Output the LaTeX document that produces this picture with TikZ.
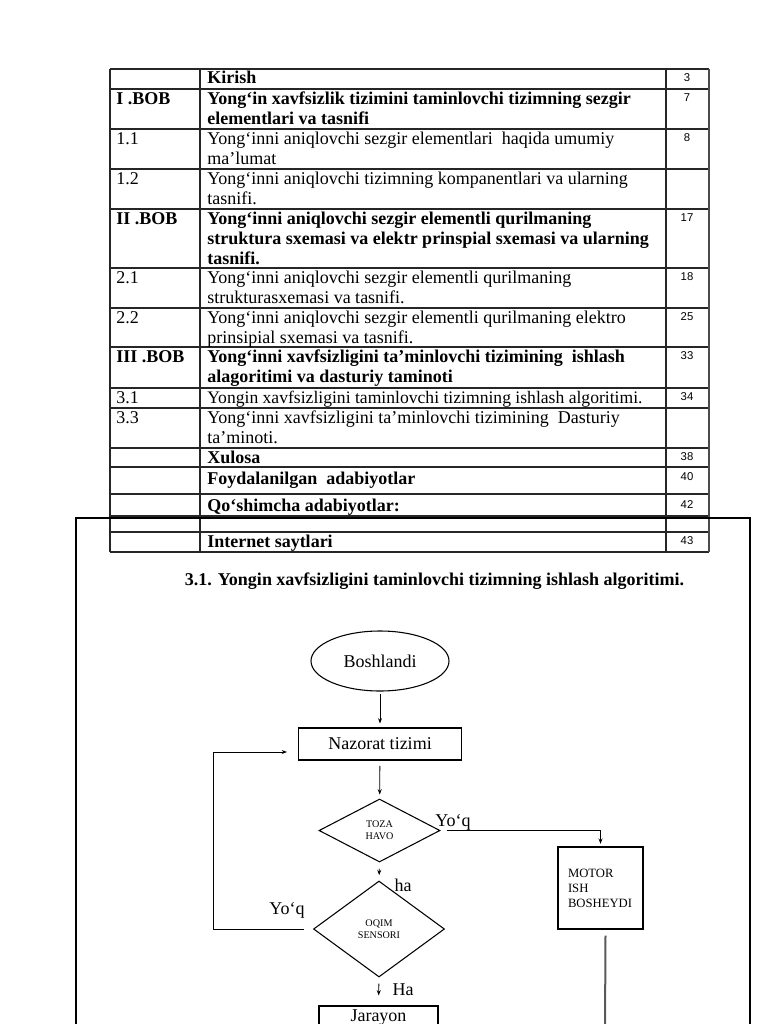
\documentclass[tikz,border=0pt]{standalone}
\usepackage{fontspec}
\setmainfont{Liberation Serif}
\newfontfamily\numfont{Liberation Sans}
\usetikzlibrary{shapes.geometric,arrows.meta}
\newcommand\pxu{0.75pt}
\begin{document}
\begin{tikzpicture}[x=0.75pt,y=-0.75pt,
  tl/.style={anchor=base west, inner sep=0pt, font=\fontsize{13.5}{15}\selectfont},
  tb/.style={anchor=base west, inner sep=0pt, font=\fontsize{13.5}{15}\selectfont\bfseries},
  pn/.style={anchor=base, inner sep=0pt, font=\numfont\fontsize{8.5}{10}\selectfont},
  gridline/.style={line width=0.8pt, draw=black!85},
  fl/.style={font=\fontsize{13.5}{16}\selectfont},
  lbl/.style={inner sep=0pt, font=\fontsize{13.5}{16}\selectfont},
  arr/.style={-{Stealth[length=4pt,width=3pt]}, line width=0.6pt},
  fbox/.style={draw, line width=0.8pt, inner sep=0pt},
  dia/.style={draw, diamond, line width=0.8pt, inner sep=0pt, align=center, font=\fontsize{7.6}{9}\selectfont},
]
\useasboundingbox (0,0) rectangle (768,1024);
\fill[white] (0,0) rectangle (768,1024);

% ---------- table ----------
\foreach \yy in {69,89,129,169,209,268,308,347,388,408,448,467,494,516,532,552}
  \draw[gridline] (110,\yy) -- (709,\yy);
\foreach \xx in {110,200,666}
  \draw[gridline] (\xx,69) -- (\xx,552);
\draw[line width=1.1pt, draw=black!70] (709,69) -- (709,552);

% row 1
\node[tb] (r1b) at (207,84) {Kirish};
\node[pn] (r1n) at (687,81) {3};
% row 2
\node[tb] (r2a) at (116,104) {I .BOB};
\node[tb] (r2b) at (207,104) {Yong‘in xavfsizlik tizimini taminlovchi tizimning sezgir};
\node[tb] (r2c) at (207,124) {elementlari va tasnifi};
\node[pn] (r2n) at (687,101) {7};
% row 3
\node[tl] (r3a) at (116,144) {1.1};
\node[tl] (r3b) at (207,144) {Yong‘inni aniqlovchi sezgir elementlari\ \ haqida umumiy};
\node[tl] (r3c) at (207,164) {ma’lumat};
\node[pn] (r3n) at (687,141) {8};
% row 4
\node[tl] (r4a) at (116,184) {1.2};
\node[tl] (r4b) at (207,184) {Yong‘inni aniqlovchi tizimning kompanentlari va ularning};
\node[tl] (r4c) at (207,204) {tasnifi.};
% row 5
\node[tb] (r5a) at (116,224) {II .BOB};
\node[tb] (r5b) at (207,224) {Yong‘inni aniqlovchi sezgir elementli qurilmaning};
\node[tb] (r5c) at (207,244) {struktura sxemasi va elektr prinspial sxemasi va ularning};
\node[tb] (r5d) at (207,264) {tasnifi.};
\node[pn] (r5n) at (687,221) {17};
% row 6
\node[tl] (r6a) at (116,283) {2.1};
\node[tl] (r6b) at (207,283) {Yong‘inni aniqlovchi sezgir elementli qurilmaning};
\node[tl] (r6c) at (207,303) {strukturasxemasi va tasnifi.};
\node[pn] (r6n) at (687,280) {18};
% row 7
\node[tl] (r7a) at (116,323) {2.2};
\node[tl] (r7b) at (207,323) {Yong‘inni aniqlovchi sezgir elementli qurilmaning elektro};
\node[tl] (r7c) at (207,343) {prinsipial sxemasi va tasnifi.};
\node[pn] (r7n) at (687,320) {25};
% row 8
\node[tb] (r8a) at (116,362) {III .BOB};
\node[tb] (r8b) at (207,362) {Yong‘inni xavfsizligini ta’minlovchi tizimining\ \ ishlash};
\node[tb] (r8c) at (207,382) {alagoritimi va dasturiy taminoti};
\node[pn] (r8n) at (687,359) {33};
% row 9
\node[tl] (r9a) at (116,403) {3.1};
\node[tl, font=\fontsize{13.2}{15}\selectfont] (r9b) at (207,403) {Yongin xavfsizligini taminlovchi tizimning ishlash algoritimi.};
\node[pn] (r9n) at (687,400) {34};
% row 10
\node[tl] (r10a) at (116,423) {3.3};
\node[tl] (r10b) at (207,423) {Yong‘inni xavfsizligini ta’minlovchi tizimining\ \ Dasturiy};
\node[tl] (r10c) at (207,443) {ta’minoti.};
% row 11
\node[tb] (r11b) at (207,463) {Xulosa};
\node[pn] (r11n) at (687,460) {38};
% row 12
\node[tb] (r12b) at (207,484) {Foydalanilgan\ \ adabiyotlar};
\node[pn] (r12n) at (687,480) {40};
% row 13
\node[tb] (r13b) at (207,511) {Qo‘shimcha adabiyotlar:};
\node[pn] (r13n) at (687,508) {42};
% row 15
\node[tb] (r15b) at (207,547) {Internet saytlari};
\node[pn] (r15n) at (687,544) {43};

% ---------- frame ----------
\draw[line width=1.6pt] (76,1030) -- (76,518) -- (750,518) -- (750,1030);

% ---------- title ----------
\node[anchor=base, inner sep=0pt, font=\fontsize{13.5}{15}\selectfont\bfseries] (title) at (434.5,585)
  {3.1. Yongin xavfsizligini taminlovchi tizimning ishlash algoritimi.};

% ---------- flowchart ----------
\node[draw, ellipse, line width=0.8pt, inner sep=0pt, minimum width=138*\pxu, minimum height=60*\pxu, fl] (start) at (380,661) {Boshlandi};
\node[fbox, minimum width=163*\pxu, minimum height=32*\pxu, fl] (naz) at (380,744) {Nazorat tizimi};
\node[dia, minimum width=121*\pxu, minimum height=63*\pxu] (d1) at (379.5,830.5) {TOZA\\HAVO};
\node[dia, minimum width=131*\pxu, minimum height=96*\pxu] (d2) at (379,929) {OQIM\\SENSORI};
\node[fbox, minimum width=85*\pxu, minimum height=82*\pxu, text width=65*\pxu, align=left, font=\fontsize{9.5}{11.25}\selectfont] (motor) at (600.5,888) {MOTOR\\ISH\\BOSHEYDI};
\node[fbox, minimum width=119*\pxu, minimum height=48*\pxu] (jar) at (378.5,1030) {};
\node[anchor=base, inner sep=0pt, fl] (jart) at (378.5,1021) {Jarayon};

\node[lbl] (l1) at (453,822) {Yo‘q};
\node[lbl] (l2) at (403,885) {ha};
\node[lbl] (l3) at (287,910) {Yo‘q};
\node[lbl] (l4) at (403,990) {Ha};

\coordinate (lp) at (213,929);
\coordinate (lpend) at (287,752);
\coordinate (mb) at (605,1030);

\draw[arr, shorten <=2pt, shorten >=3pt] (start) -- (naz);
\draw[arr, shorten <=4pt, shorten >=3pt] (naz) -- (d1);
\draw[arr, shorten <=4.5pt, shorten >=4pt] (d1.south) -- (d2.north);
\draw[arr, shorten <=4.5pt, shorten >=7.5pt] (d2.south) -- (jar.north);
\draw[arr, shorten <=4.5pt, shorten >=2pt] (d1.east) -| (motor.north);
\draw[arr, shorten <=7pt] (d2.west) -- (lp) |- (lpend);
\draw[line width=1.5pt, draw=black!65] ([xshift=3.75pt,yshift=-4.5pt]motor.south) -- (mb);
\end{tikzpicture}
\end{document}
